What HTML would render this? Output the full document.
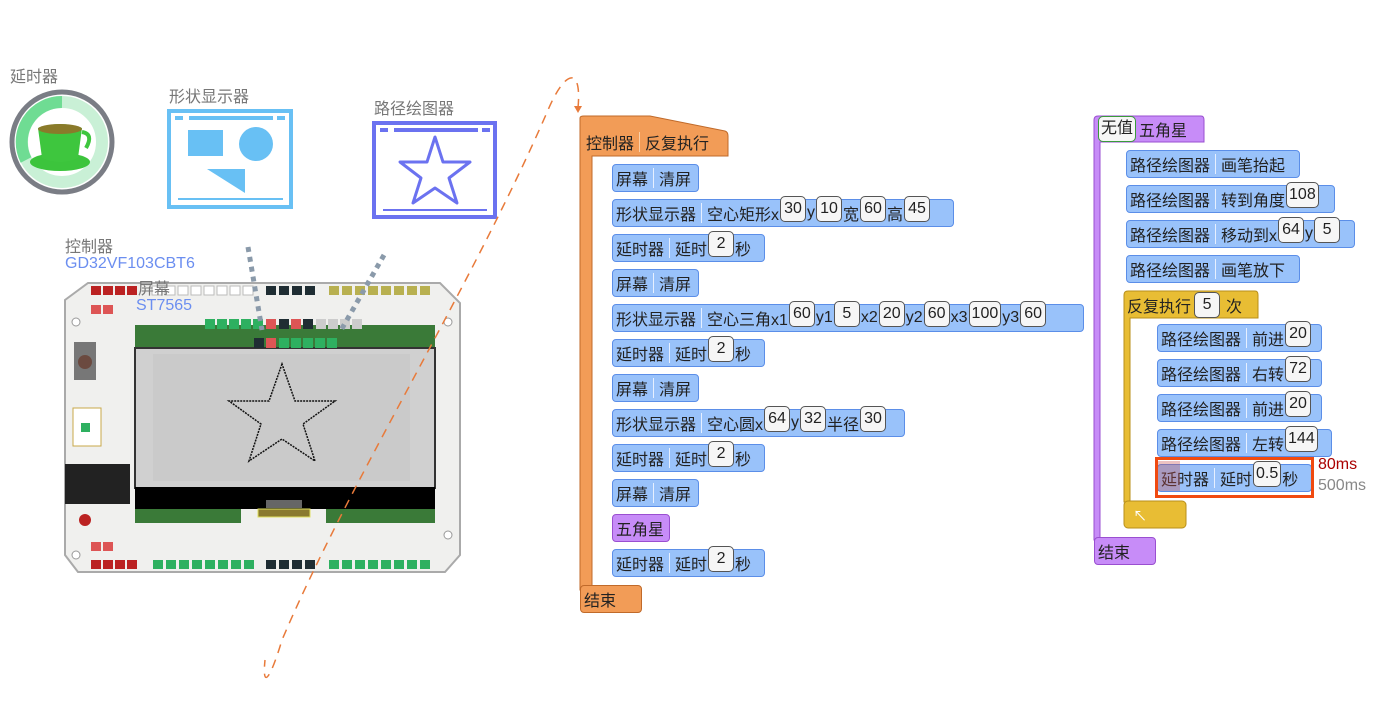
<!DOCTYPE html>
<html><head><meta charset="utf-8"><style>
body{margin:0;width:1395px;height:711px;background:#fff;position:relative;overflow:hidden;font-family:"Liberation Sans","Noto Sans CJK SC",sans-serif;}
.t{position:absolute;font-size:16px;color:#777;white-space:nowrap;z-index:5}
.b{position:absolute;height:26px;background:#99c2fa;border:1px solid #5b8ee8;border-radius:4px;display:flex;align-items:center;font-size:16px;color:#222;white-space:nowrap;padding-left:3px;box-sizing:content-box}
.s{display:inline-block;width:1px;height:20px;background:#e6efff;margin:0 5px}
.i{display:inline-block;position:relative;top:-4px;min-width:20px;height:24px;line-height:24px;padding:0 2px;background:#f6f6f6;border:1px solid #555;border-radius:5px;text-align:center;font-size:16px;margin:0 1px}
.o{background:#f29c57;border-color:#c06a2a}
.p{background:#c78cf8;border-color:#9a4fd0}
.y{background:#e8bd34;border-color:#b88f1a}
</style></head><body>
<div class="t" style="left:10px;top:63px">延时器</div>
<div class="t" style="left:169px;top:83px">形状显示器</div>
<div class="t" style="left:374px;top:95px">路径绘图器</div>
<div class="t" style="left:65px;top:233px">控制器</div>
<div class="t" style="left:65px;top:255px;color:#6b8ef0">GD32VF103CBT6</div>
<div class="t" style="left:138px;top:275px">屏幕</div>
<div class="t" style="left:136px;top:297px;color:#6b8ef0">ST7565</div>

<svg style="position:absolute;left:0;top:0" width="1395" height="711">
<!-- timer -->
<circle cx="62" cy="142" r="50" fill="#fff" stroke="#7a7d85" stroke-width="5"/>
<circle cx="62" cy="142" r="40" fill="none" stroke="#c9f0d6" stroke-width="12"/>
<path d="M62 102 A40 40 0 0 0 26 160" fill="none" stroke="#6fdc93" stroke-width="12"/>
<ellipse cx="60" cy="162" rx="30" ry="9" fill="#3cc43c"/>
<path d="M38 128 Q60 120 82 128 L78 158 Q60 166 42 158 Z" fill="#3ec63e"/>
<ellipse cx="60" cy="129" rx="22" ry="5" fill="#8a7a2a"/>
<path d="M82 132 q12 2 4 16" fill="none" stroke="#3ec63e" stroke-width="4"/>
<!-- shape display -->
<rect x="169" y="111" width="122" height="96" fill="#fff" stroke="#68c0f4" stroke-width="4"/>
<rect x="175" y="116" width="8" height="4" fill="#68c0f4"/><rect x="189" y="116" width="84" height="4" fill="#68c0f4"/><rect x="277" y="116" width="8" height="4" fill="#68c0f4"/>
<rect x="188" y="130" width="35" height="26" fill="#68c0f4"/><circle cx="256" cy="144" r="17" fill="#68c0f4"/>
<polygon points="207,169 245,169 245,193" fill="#68c0f4"/>
<rect x="178" y="198" width="105" height="2" fill="#68c0f4"/>
<!-- path plotter -->
<rect x="374" y="123" width="121" height="94" fill="#fff" stroke="#6b72f0" stroke-width="4"/>
<rect x="380" y="128" width="8" height="4" fill="#6b72f0"/><rect x="394" y="128" width="84" height="4" fill="#6b72f0"/><rect x="482" y="128" width="8" height="4" fill="#6b72f0"/>
<polygon points="435,137 427,162 400,162 421,178 413,203 435,188 457,203 449,178 470,162 443,162" fill="none" stroke="#6b72f0" stroke-width="3" stroke-linejoin="round"/>
<rect x="383" y="209" width="104" height="2" fill="#6b72f0"/>
<!-- board -->
<polygon points="88,283 440,283 460,303 460,555 445,572 78,572 65,555 65,300" fill="#f0f0ee" stroke="#aaa" stroke-width="2"/>
<g fill="#b22"><rect x="91" y="286" width="10" height="9"/><rect x="103" y="286" width="10" height="9"/><rect x="115" y="286" width="10" height="9"/><rect x="127" y="286" width="10" height="9"/><rect x="91" y="560" width="10" height="9"/><rect x="103" y="560" width="10" height="9"/><rect x="115" y="560" width="10" height="9"/><rect x="127" y="560" width="10" height="9"/></g>
<g fill="#d55"><rect x="91" y="305" width="10" height="9"/><rect x="103" y="305" width="10" height="9"/><rect x="91" y="542" width="10" height="9"/><rect x="103" y="542" width="10" height="9"/></g>
<g fill="#fff" stroke="#bbb"><rect x="152" y="286" width="10" height="9"/><rect x="165" y="286" width="10" height="9"/><rect x="178" y="286" width="10" height="9"/><rect x="191" y="286" width="10" height="9"/><rect x="204" y="286" width="10" height="9"/><rect x="217" y="286" width="10" height="9"/><rect x="230" y="286" width="10" height="9"/><rect x="243" y="286" width="10" height="9"/></g>
<g fill="#1f2d33"><rect x="266" y="286" width="10" height="9"/><rect x="279" y="286" width="10" height="9"/><rect x="292" y="286" width="10" height="9"/><rect x="305" y="286" width="10" height="9"/><rect x="266" y="560" width="10" height="9"/><rect x="279" y="560" width="10" height="9"/><rect x="292" y="560" width="10" height="9"/><rect x="305" y="560" width="10" height="9"/></g>
<g fill="#b8b050"><rect x="329" y="286" width="10" height="9"/><rect x="342" y="286" width="10" height="9"/><rect x="355" y="286" width="10" height="9"/><rect x="368" y="286" width="10" height="9"/><rect x="381" y="286" width="10" height="9"/><rect x="394" y="286" width="10" height="9"/><rect x="407" y="286" width="10" height="9"/><rect x="420" y="286" width="10" height="9"/></g>
<g fill="#2eb060"><rect x="153" y="560" width="10" height="9"/><rect x="166" y="560" width="10" height="9"/><rect x="179" y="560" width="10" height="9"/><rect x="192" y="560" width="10" height="9"/><rect x="205" y="560" width="10" height="9"/><rect x="218" y="560" width="10" height="9"/><rect x="231" y="560" width="10" height="9"/><rect x="244" y="560" width="10" height="9"/>
<rect x="329" y="560" width="10" height="9"/><rect x="342" y="560" width="10" height="9"/><rect x="355" y="560" width="10" height="9"/><rect x="368" y="560" width="10" height="9"/><rect x="381" y="560" width="10" height="9"/><rect x="394" y="560" width="10" height="9"/><rect x="407" y="560" width="10" height="9"/><rect x="420" y="560" width="10" height="9"/></g>
<circle cx="76" cy="322" r="4" fill="#fff" stroke="#999"/><circle cx="448" cy="322" r="4" fill="#fff" stroke="#999"/><circle cx="76" cy="555" r="4" fill="#fff" stroke="#999"/><circle cx="448" cy="535" r="4" fill="#fff" stroke="#999"/>
<rect x="74" y="342" width="22" height="38" fill="#777"/><circle cx="85" cy="362" r="7" fill="#6b4a40"/>
<rect x="73" y="408" width="28" height="38" fill="#fff" stroke="#c8a84a"/><rect x="81" y="423" width="9" height="9" fill="#2eb060"/>
<rect x="65" y="464" width="65" height="40" fill="#222"/>
<circle cx="85" cy="520" r="6" fill="#b22"/>
<rect x="135" y="325" width="300" height="25" fill="#3a7a38"/>
<rect x="135" y="348" width="300" height="140" fill="#d0d0d0" stroke="#333" stroke-width="2"/>
<rect x="153" y="354" width="257" height="127" fill="#cacaca"/>
<polygon points="282,364 269,401 229,401 261,424 249,461 282,439 315,461 303,424 335,401 295,401" fill="none" stroke="#111" stroke-width="1.5" stroke-dasharray="2 1"/>
<rect x="135" y="487" width="300" height="22" fill="#000"/>
<rect x="266" y="500" width="36" height="8" fill="#666"/>
<rect x="135" y="509" width="106" height="14" fill="#3a7a38"/><rect x="326" y="509" width="109" height="14" fill="#3a7a38"/>
<rect x="258" y="509" width="52" height="8" fill="#8a7a30" stroke="#e0e060"/>
<g fill="#2eb060"><rect x="205" y="319" width="10" height="10"/><rect x="217" y="319" width="10" height="10"/><rect x="229" y="319" width="10" height="10"/><rect x="241" y="319" width="10" height="10"/><rect x="253" y="319" width="10" height="10"/><rect x="279" y="338" width="10" height="10"/><rect x="291" y="338" width="10" height="10"/><rect x="303" y="338" width="10" height="10"/><rect x="315" y="338" width="10" height="10"/><rect x="327" y="338" width="10" height="10"/></g>
<rect x="266" y="319" width="10" height="10" fill="#d55"/><rect x="291" y="319" width="10" height="10" fill="#d55"/><rect x="266" y="338" width="10" height="10" fill="#d55"/>
<rect x="279" y="319" width="10" height="10" fill="#1f2d33"/><rect x="303" y="319" width="10" height="10" fill="#1f2d33"/><rect x="254" y="338" width="10" height="10" fill="#1f2d33"/>
<g fill="#ccc"><rect x="316" y="319" width="10" height="10"/><rect x="328" y="319" width="10" height="10"/><rect x="340" y="319" width="10" height="10"/><rect x="352" y="319" width="10" height="10"/></g>
<!-- dotted connectors -->
<line x1="248" y1="247" x2="262" y2="330" stroke="#8a9aaa" stroke-width="5" stroke-dasharray="5 5"/>
<line x1="384" y1="255" x2="340" y2="332" stroke="#8a9aaa" stroke-width="5" stroke-dasharray="5 5"/>
<!-- orange dashed curve -->
<path d="M578 108 C582 65 565 70 548 110 C470 290 350 480 282 640 C270 680 262 690 265 660" fill="none" stroke="#e87a3a" stroke-width="1.5" stroke-dasharray="9 7"/>
<polygon points="574,106 582,106 578,113" fill="#e87a3a"/>
<!-- frames -->
<path d="M580 118 Q580 116 584 116 L650 116 L725 131 Q728 132 728 136 L728 156 L592 156 L592 590 L580 590 Z" fill="#f29c57" stroke="#c06a2a"/>
<path d="M1094 120 Q1094 116 1098 116 L1201 116 Q1204 116 1204 120 L1204 142 L1100 142 L1100 540 L1094 540 Z" fill="#c78cf8" stroke="#9a4fd0"/>
<path d="M1124 295 Q1124 291 1128 291 L1255 291 Q1258 291 1258 295 L1258 318 L1130 318 L1130 502 L1124 502 Z" fill="#e8bd34" stroke="#b88f1a"/>
<rect x="1124" y="501" width="62" height="27" rx="4" fill="#e8bd34" stroke="#b88f1a"/>
<text x="1133" y="521" font-size="14" fill="#fff">↖</text>
</svg>

<div class="b o" style="left:583px;top:130px;height:24px;border:none;background:none">控制器<span class="s" style="background:#fbd0a8"></span>反复执行</div>
<div class="b o" style="left:580px;top:585px;width:57px">结束</div>

<div class="b" style="left:612px;top:164px;width:82px">屏幕<span class="s"></span>清屏</div>
<div class="b" style="left:612px;top:199px;width:337px">形状显示器<span class="s"></span>空心矩形x<span class="i">30</span>y<span class="i">10</span>宽<span class="i">60</span>高<span class="i">45</span></div>
<div class="b" style="left:612px;top:234px;width:148px">延时器<span class="s"></span>延时<span class="i">2</span>秒</div>
<div class="b" style="left:612px;top:269px;width:82px">屏幕<span class="s"></span>清屏</div>
<div class="b" style="left:612px;top:304px;width:467px">形状显示器<span class="s"></span>空心三角x1<span class="i">60</span>y1<span class="i">5</span>x2<span class="i">20</span>y2<span class="i">60</span>x3<span class="i">100</span>y3<span class="i">60</span></div>
<div class="b" style="left:612px;top:339px;width:148px">延时器<span class="s"></span>延时<span class="i">2</span>秒</div>
<div class="b" style="left:612px;top:374px;width:82px">屏幕<span class="s"></span>清屏</div>
<div class="b" style="left:612px;top:409px;width:288px">形状显示器<span class="s"></span>空心圆x<span class="i">64</span>y<span class="i">32</span>半径<span class="i">30</span></div>
<div class="b" style="left:612px;top:444px;width:148px">延时器<span class="s"></span>延时<span class="i">2</span>秒</div>
<div class="b" style="left:612px;top:479px;width:82px">屏幕<span class="s"></span>清屏</div>
<div class="b p" style="left:612px;top:514px;width:53px">五角星</div>
<div class="b" style="left:612px;top:549px;width:148px">延时器<span class="s"></span>延时<span class="i">2</span>秒</div>

<div class="b p" style="left:1097px;top:117px;height:24px;border:none;background:none;padding:0"><span class="i" style="top:0;border-color:#3a9a3a;margin-right:3px">无值</span>五角星</div>
<div class="b p" style="left:1094px;top:537px;width:57px">结束</div>
<div class="b" style="left:1126px;top:150px;width:169px">路径绘图器<span class="s"></span>画笔抬起</div>
<div class="b" style="left:1126px;top:185px;width:204px">路径绘图器<span class="s"></span>转到角度<span class="i">108</span></div>
<div class="b" style="left:1126px;top:220px;width:224px">路径绘图器<span class="s"></span>移动到x<span class="i">64</span>y<span class="i">5</span></div>
<div class="b" style="left:1126px;top:255px;width:169px">路径绘图器<span class="s"></span>画笔放下</div>
<div class="b y" style="left:1127px;top:292px;height:25px;border:none;background:none;padding:0">反复执行<span class="i" style="top:0;margin:0 6px 0 3px">5</span>次</div>
<div class="b" style="left:1157px;top:324px;width:160px">路径绘图器<span class="s"></span>前进<span class="i">20</span></div>
<div class="b" style="left:1157px;top:359px;width:160px">路径绘图器<span class="s"></span>右转<span class="i">72</span></div>
<div class="b" style="left:1157px;top:394px;width:160px">路径绘图器<span class="s"></span>前进<span class="i">20</span></div>
<div class="b" style="left:1157px;top:429px;width:170px">路径绘图器<span class="s"></span>左转<span class="i">144</span></div>
<div class="b" style="left:1157px;top:464px;width:150px">延时器<span class="s"></span>延时<span class="i">0.5</span>秒</div>
<div style="position:absolute;left:1158px;top:461px;width:22px;height:30px;background:rgba(200,80,80,0.35)"></div>
<div style="position:absolute;left:1155px;top:457px;width:153px;height:35px;border:3px solid #f04a10"></div>
<div class="t" style="left:1318px;top:456px;color:#a00">80ms</div>
<div class="t" style="left:1318px;top:477px;color:#888">500ms</div>
</body></html>
